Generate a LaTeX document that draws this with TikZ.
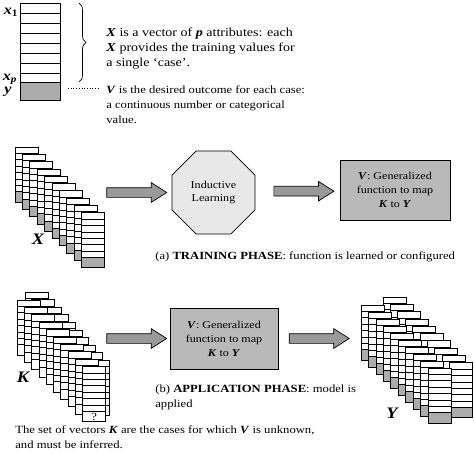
\documentclass[tikz,border=0pt]{standalone}
\usepackage{fontspec}
\setmainfont{Liberation Serif}[FakeStretch=1.15]
\usetikzlibrary{shapes.geometric,shapes.arrows,fit,decorations.pathreplacing}
\tikzstyle{phase} = [regular polygon, regular polygon sides=8, draw, fill=gray!18,
    minimum size=90pt, inner sep=0pt, align=center, font=\fontsize{10.5}{13}\selectfont]
\tikzstyle{block} = [rectangle, draw, fill=gray!55, minimum width=110pt,
    minimum height=60pt, align=center, inner sep=2pt, font=\fontsize{10.5}{14}\selectfont]
\tikzstyle{bigarrow} = [single arrow, draw, fill=gray!80, minimum height=60pt,
    inner xsep=0pt, inner ysep=4.5pt, single arrow head extend=5pt, single arrow tip angle=65]
\tikzstyle{note} = [align=left, anchor=north west, inner sep=0pt]
\tikzstyle{tag} = [inner sep=0pt, font=\fontsize{16}{16}\selectfont\bfseries\itshape]
\tikzstyle{attr} = [inner sep=0pt, font=\fontsize{14}{14}\selectfont]
\newcommand{\bi}[1]{\textbf{\textit{#1}}}
% one case vector: x, y, fill of last cell, text of last cell
\newcommand{\drawcard}[4]{%
  \filldraw[fill=white] (#1,#2) rectangle ++(23,55);
  \foreach \r in {1,...,6} \draw (#1,#2+\r*6.4) -- ++(23,0);
  \filldraw[fill=#3] (#1,#2+44.8) rectangle ++(23,10.2);
  \node[inner sep=0pt] at (#1+11.5,#2+50.5) {#4};
}

\begin{document}
\begin{tikzpicture}[x=1pt, y=-1pt, line width=0.7pt, font=\fontsize{11}{15}\selectfont]
    \useasboundingbox (0,0) rectangle (474,461);
    % Single vector
    \filldraw[fill=white] (20,3) rectangle (60,100);
    \foreach \r in {13,23,...,73} \draw (20,\r) -- (60,\r);
    \filldraw[fill=gray!65] (20,82) rectangle (60,100);
    \node[attr] (x1) at (11,12) {\bi{x}\textsubscript{\bfseries 1}};
    \node[attr] (xp) at (10,79) {\bi{x}\textsubscript{\bi{p}}};
    \node[attr] (yv) at (8,92) {\bi{y}};
    \draw[decorate, decoration={brace, amplitude=7pt}] (79,3) -- (79,82);
    \draw[dotted] (68,88) -- (100,88);
    \node[note, font=\fontsize{12.2}{15}\selectfont] (xnote) at (106,28) {\bi{X} is a vector of \bi{p} attributes: each\\
        \bi{X} provides the training values for\\a single `case'.};
    \node[note] (vnote) at (106,85.4) {\bi{V} is the desired outcome for each case:\\
        a continuous number or categorical\\value.};
    % Training phase
    \foreach \i in {0,...,9} {\drawcard{15+7.4*\i}{147+7.3*\i}{gray!65}{}}
    \node[fit={(15,147) (104.6,267.7)}, inner sep=0pt] (setX) {};
    \node[tag] (labX) at (38,239) {X};
    \node[phase] (induct) at (213.5,192.5) {Inductive\\Learning};
    \node[block] (func) at (395,190) {\bi{V}: Generalized\\function to map\\\bi{K} to \bi{Y}};
    \node[anchor=base west, inner sep=0pt] (capA) at (155,259)
        {(a) \textbf{TRAINING PHASE}: function is learned or configured};
    % Application phase
    \foreach \i in {0,...,9} {\drawcard{25+6.8*\i}{292+7.6*\i}{white}{}}
    \foreach \i in {0,...,9} {\drawcard{17+7.3*\i}{300+7.4*\i}{white}{\ifnum\i=9 ?\fi}}
    \node[fit={(17,292) (110,422)}, inner sep=0pt] (setK) {};
    \node[tag] (labK) at (23,377) {K};
    \node[block, minimum width=108pt, minimum height=61pt] (apply) at (224,338.5)
        {\bi{V}: Generalized\\function to map\\\bi{K} to \bi{Y}};
    \foreach \i in {0,...,9} {\drawcard{383+7.4*\i}{297+7.3*\i}{gray!65}{}}
    \foreach \i in {0,...,9} {\drawcard{361+7.44*\i}{305+7*\i}{gray!65}{}}
    \node[fit={(361,297) (473,427)}, inner sep=0pt] (setY) {};
    \node[tag] (labY) at (392,413) {Y};
    \node[note] (capB) at (155,385) {(b) \textbf{APPLICATION PHASE}: model is\\applied};
    \node[note] (knote) at (15,425.4) {The set of vectors \bi{K} are the cases for which \bi{V} is unknown,\\
        and must be inferred.};
    % Draw edges
    \path (setX.east |- induct) -- node[bigarrow, pos=0.42] (a1) {} (induct.west);
    \path (induct.east) -- node[bigarrow, pos=0.53] (a2) {} (func.west);
    \path (setK.east |- apply) -- node[bigarrow, pos=0.38] (a3) {} (apply.west);
    \path (apply.east) -- node[bigarrow, pos=0.45] (a4) {} (setY.west |- apply);
\end{tikzpicture}
\end{document}
